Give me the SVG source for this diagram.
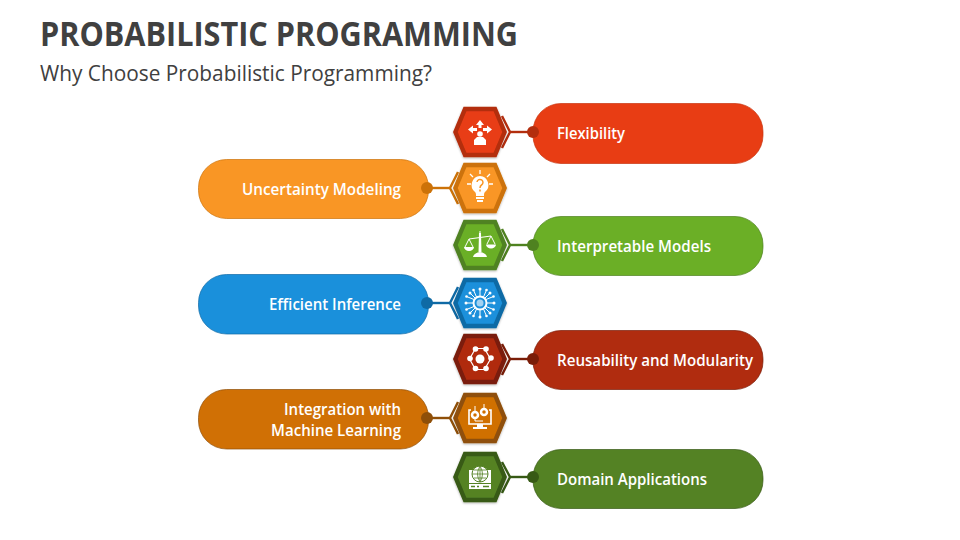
<svg xmlns="http://www.w3.org/2000/svg" width="960" height="540" viewBox="0 0 960 540">
<style>
text{font-family:"Open Sans","Liberation Sans",sans-serif}
.t{font-size:33.500px;font-weight:700;fill:#404040}
.s{font-size:21px;fill:#404040}
.l{font-size:15.500px;font-weight:600;fill:#fff}
.w{fill:#fff}
.o{fill:none;stroke:#fff;stroke-width:1.2}
.c{fill:none;stroke-width:2.4}
.hex{stroke-width:4.4;stroke-linejoin:miter;filter:url(#sh)}
.pill{stroke-width:1;stroke-opacity:.7}
</style>
<defs>
<filter id="sh" x="-20%" y="-20%" width="140%" height="140%"><feDropShadow dx="0" dy="1" stdDeviation="1" flood-color="#000" flood-opacity=".3"/></filter>
<polygon id="hx" points="-24.6,0 -15,-23 15,-23 24.6,0 15,23 -15,23"/>
</defs>
<rect width="960" height="540" fill="#fff"/>
<text class="t" x="40" y="46" textLength="478" lengthAdjust="spacingAndGlyphs">PROBABILISTIC PROGRAMMING</text>
<text class="s" x="40" y="81" textLength="392" lengthAdjust="spacingAndGlyphs">Why Choose Probabilistic Programming?</text>

<g id="connectors">
<g class="c" stroke="#B32E0E"><path d="M502 116 510 132 502 148"/><path d="M510 132H533"/></g>
<g class="c" stroke="#CC7208"><path d="M458 172 450 188 458 204"/><path d="M450 188H427"/></g>
<g class="c" stroke="#4F8220"><path d="M502 229 510 245 502 261"/><path d="M510 245H533"/></g>
<g class="c" stroke="#0F6AA5"><path d="M458 287 450 303 458 319"/><path d="M450 303H427"/></g>
<g class="c" stroke="#7A1D08"><path d="M502 344 510 359 502 375"/><path d="M510 359H533"/></g>
<g class="c" stroke="#8F4F08"><path d="M458 402 450 418 458 434"/><path d="M450 418H427"/></g>
<g class="c" stroke="#375A15"><path d="M502 462 510 477 502 493"/><path d="M510 477H533"/></g>
</g>

<g id="node-flexibility">
<rect class="pill" x="533" y="103.500" width="230" height="60" rx="28" fill="#E83D14" stroke="#C8340F"/>
<circle cx="533" cy="132" r="6" fill="#B32E0E"/>
<use href="#hx" x="480" y="132" class="hex" fill="#E83D14" stroke="#B32E0E"/>
<path class="w" d="M480 120l4 5h-2.500v3h-3v-3H476zM468 129.500l5-4v2.500h4v3h-4v2.500zM492 129.500l-5-4v2.500h-4v3h4v2.500z"/>
<circle class="w" cx="480" cy="134" r="2.800"/><path class="w" d="M477 137h6l3 3v5h-12v-5z"/>
<text class="l" x="557" y="138.500" textLength="68" lengthAdjust="spacingAndGlyphs">Flexibility</text>
</g>

<g id="node-uncertainty">
<rect class="pill" x="198.500" y="159.500" width="230" height="59" rx="28" fill="#F99625" stroke="#CC7208"/>
<circle cx="427" cy="188" r="6" fill="#CC7208"/>
<use href="#hx" x="480" y="188" class="hex" fill="#F99625" stroke="#CC7208"/>
<path class="w" d="M480 176a9 9 0 0 0-5 16c1 1 1 2 1 4h8c0-2 0-3 1-4a9 9 0 0 0-5-16zM476 197h8v2h-8zM477 200h6v2h-6z"/>
<path d="M477 182a3 3 0 1 1 4.500 3c-1 .6-1.500 1.200-1.500 3M480 189.500v2" fill="none" stroke="#F99625" stroke-width="1.500"/>
<path d="M480 170v4M470 174l3 3M490 174l-3 3M467 184h4M493 184h-4" stroke="#fff" stroke-width="1.300"/>
<text class="l" x="242" y="194.500" textLength="159" lengthAdjust="spacingAndGlyphs">Uncertainty Modeling</text>
</g>

<g id="node-interpretable">
<rect class="pill" x="533" y="216.500" width="230" height="59" rx="28" fill="#6BAF26" stroke="#4F8220"/>
<circle cx="533" cy="245" r="6" fill="#4F8220"/>
<use href="#hx" x="480" y="245" class="hex" fill="#6BAF26" stroke="#4F8220"/>
<path d="M480 231v21M469 239l22-3M469 239l-4 8M469 239l4 8M491 236l-4 8M491 236l4 8" stroke="#fff" stroke-width="1" fill="none"/>
<path class="w" d="M479 233h2l.5 19h-3zM464 247h10a5 4 0 0 1-10 0zM486 244.500h10a5 4 0 0 1-10 0zM473 257q1-4 7-5 6 1 7 5z"/>
<text class="l" x="557" y="251.500" textLength="154" lengthAdjust="spacingAndGlyphs">Interpretable Models</text>
</g>

<g id="node-inference">
<rect class="pill" x="198.500" y="274.500" width="230" height="59.500" rx="28" fill="#1A90DB" stroke="#0F6AA5"/>
<circle cx="427" cy="303" r="6" fill="#0F6AA5"/>
<use href="#hx" x="480" y="303" class="hex" fill="#1A90DB" stroke="#0F6AA5"/>
<circle cx="480" cy="303" r="6.500" fill="none" stroke="#fff" stroke-width="2"/><circle cx="480" cy="303" r="3.500" fill="#fff" opacity=".6"/>
<path d="M480 296.500V289M480 309.500V317M473.500 303H466M486.500 303H494M475.500 298.500 470 293M484.500 298.500 490 293M475.500 307.500 470 313M484.500 307.500 490 313M474 299.500 466.500 296.500M486 299.500 493.500 296.500M474 306.500 466.500 309.500M486 306.500 493.500 309.500M476.500 297 473.500 290M483.500 297 486.500 290M476.500 309 473.500 316M483.500 309 486.500 316" stroke="#fff" stroke-width="1"/>
<g class="w"><circle cx="480" cy="289" r="1.500"/><circle cx="480" cy="317" r="1.500"/><circle cx="466" cy="303" r="1.500"/><circle cx="494" cy="303" r="1.500"/><circle cx="470" cy="293" r="1.500"/><circle cx="490" cy="293" r="1.500"/><circle cx="470" cy="313" r="1.500"/><circle cx="490" cy="313" r="1.500"/><circle cx="466.500" cy="296.500" r="1.300"/><circle cx="493.500" cy="296.500" r="1.300"/><circle cx="466.500" cy="309.500" r="1.300"/><circle cx="493.500" cy="309.500" r="1.300"/><circle cx="473.500" cy="290" r="1.300"/><circle cx="486.500" cy="290" r="1.300"/><circle cx="473.500" cy="316" r="1.300"/><circle cx="486.500" cy="316" r="1.300"/></g>
<text class="l" x="269" y="310" textLength="132" lengthAdjust="spacingAndGlyphs">Efficient Inference</text>
</g>

<g id="node-reusability">
<rect class="pill" x="533" y="330.500" width="230" height="59" rx="28" fill="#B02C0F" stroke="#7A1D08"/>
<circle cx="533" cy="359" r="6" fill="#7A1D08"/>
<use href="#hx" x="480" y="359" class="hex" fill="#B02C0F" stroke="#7A1D08"/>
<circle class="w" cx="480" cy="359" r="4.500"/>
<path class="o" d="M475.500 348.500h9l6 10.500-6 10.500h-9l-6-10.500z"/>
<g class="w"><circle cx="475.500" cy="349" r="2.800"/><circle cx="486" cy="349" r="2.800"/><circle cx="491" cy="358" r="2.800"/><circle cx="486" cy="368.500" r="2.800"/><circle cx="475.500" cy="368.500" r="2.800"/><circle cx="470" cy="358.500" r="2.800"/></g>
<text class="l" x="557" y="366" textLength="196" lengthAdjust="spacingAndGlyphs">Reusability and Modularity</text>
</g>

<g id="node-integration">
<rect class="pill" x="198.500" y="389.500" width="230" height="59.500" rx="28" fill="#D07005" stroke="#8F4F08"/>
<circle cx="427" cy="418" r="6" fill="#8F4F08"/>
<use href="#hx" x="480" y="418" class="hex" fill="#D07005" stroke="#8F4F08"/>
<path d="M471 410h-2v14h22v-14h-2" fill="none" stroke="#fff" stroke-width="1.600"/>
<path class="w" d="M477 424h6v3h4v2h-14v-2h4z"/>
<circle cx="475" cy="415" r="3" fill="none" stroke="#fff" stroke-width="2.500"/>
<circle cx="484" cy="412" r="3" fill="none" stroke="#fff" stroke-width="2.500"/>
<path d="M475 411v-5M484 408v-4M475 419v2h8" stroke="#fff" stroke-width="1" fill="none"/>
<text class="l" x="284" y="415" textLength="117" lengthAdjust="spacingAndGlyphs">Integration with</text>
<text class="l" x="271" y="436" textLength="130" lengthAdjust="spacingAndGlyphs">Machine Learning</text>
</g>

<g id="node-domain">
<rect class="pill" x="533" y="449.500" width="230" height="59" rx="28" fill="#548224" stroke="#375A15"/>
<circle cx="533" cy="477" r="6" fill="#375A15"/>
<use href="#hx" x="480" y="477" class="hex" fill="#548224" stroke="#375A15"/>
<rect class="w" x="469" y="470" width="22" height="13"/>
<rect class="w" x="469" y="484" width="22" height="5"/>
<circle cx="480" cy="474" r="8" fill="#fff" stroke="#548224" stroke-width="1"/>
<path d="M472 474h16M480 466v16M474 470h12M474 478h12M480 466q-5 8 0 16M480 466q5 8 0 16" fill="none" stroke="#548224" stroke-width=".8"/>
<path d="M471 486.500h4M477 486.500h2M483 486.500h6" stroke="#548224" stroke-width="1.500"/>
<text class="l" x="557" y="485" textLength="150" lengthAdjust="spacingAndGlyphs">Domain Applications</text>
</g>
</svg>
